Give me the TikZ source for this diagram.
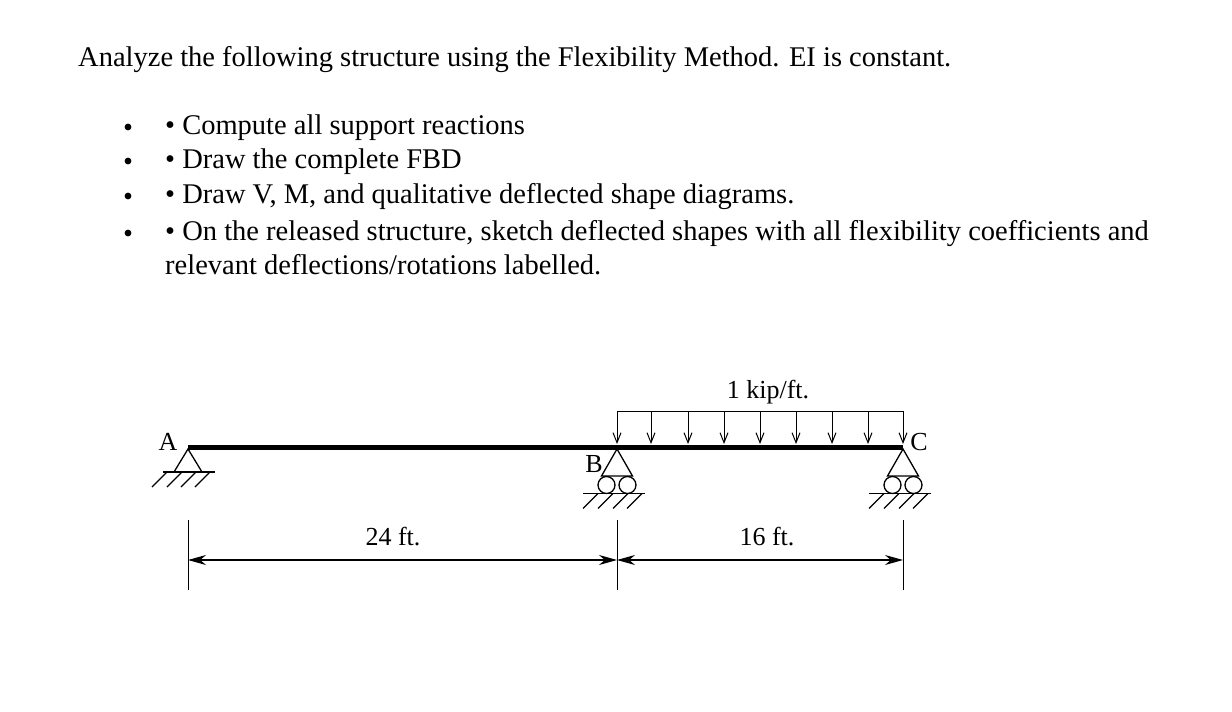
\documentclass[tikz,border=0pt]{standalone}
\usepackage{fontspec}
\setmainfont{Liberation Serif}
\usetikzlibrary{arrows.meta}
\begin{document}
\begin{tikzpicture}[x=1pt,y=-1pt,
  txt/.style={anchor=base west,inner sep=0pt,font=\fontsize{28.5}{33}\selectfont},
  lbl/.style={inner sep=0pt,font=\fontsize{26}{30}\selectfont},
  thin/.style={line width=1.3pt},
  ld/.style={line width=1pt,-{Straight Barb[length=10pt,width=8pt]}},
  dim/.style={line width=1.1pt,{Stealth[length=18pt,width=10pt]}-{Stealth[length=18pt,width=10pt]}}]
\useasboundingbox (0,0) rectangle (1232,712);
\node[txt] (t0) at (78,66) {Analyze the following structure using the Flexibility Method. EI is constant.};
\foreach \y/\s [count=\i] in {134/{Compute all support reactions},168/{Draw the complete FBD},203/{Draw V, M, and qualitative deflected shape diagrams.},240/{On the released structure, sketch deflected shapes with all flexibility coefficients and}}{
  \fill (128,\y-7) circle (3.4);
  \node[txt] (b\i) at (165,\y) {• \s};
}
\node[txt] (b5) at (165,274) {relevant deflections/rotations labelled.};
% beam
\coordinate (A) at (188,447);
\coordinate (B) at (617,447);
\coordinate (C) at (903,447);
\draw[line width=5pt] (A) -- (C);
% supports
\draw[thin] (188,449) -- (174,472) -- (202,472) -- cycle;
\draw[thin] (163,472) -- (215,472);
\foreach \x in {167,182,196,210} \draw[thin] (\x,472) -- ++(-15,15);
\foreach \P/\px in {B/617,C/903}{
  \draw[thin] (\px,449) -- (\px-15.5,476) -- (\px+15.5,476) -- cycle;
  \draw[thin] (\px-10.5,485) circle (8.5) (\px+10.5,485) circle (8.5);
  \draw[thin] (\px-34,493.5) -- (\px+28,493.5);
  \foreach \dx in {-19,-4,11,25} \draw[thin] (\px+\dx,493.5) -- ++(-15,15);
}
\node[lbl] (la) at (168,442) {A};
\node[lbl] (lb) at (594,464) {B};
\node[lbl] (lc) at (919,442) {C};
% distributed load
\coordinate (L0) at (617,411);
\coordinate (L1) at (903,411);
\draw[line width=1pt] (L0) -- (L1);
\foreach \x in {617,651,688,724,760,796,832,868,903} \draw[ld] (\x,411) -- (\x,444);
\node[lbl] (q) at (768,392) {1 kip/ft.};
% dimensions
\foreach \x in {188,617,903} \draw[line width=1pt] (\x,520) -- (\x,590);
\coordinate (DA) at (188,560); \coordinate (DB) at (617,560); \coordinate (DC) at (903,560);
\draw[dim] (DA) -- (DB);
\draw[dim] (DB) -- (DC);
\node[lbl] (d1) at (393,537) {24 ft.};
\node[lbl] (d2) at (767,537) {16 ft.};
\end{tikzpicture}
\end{document}
